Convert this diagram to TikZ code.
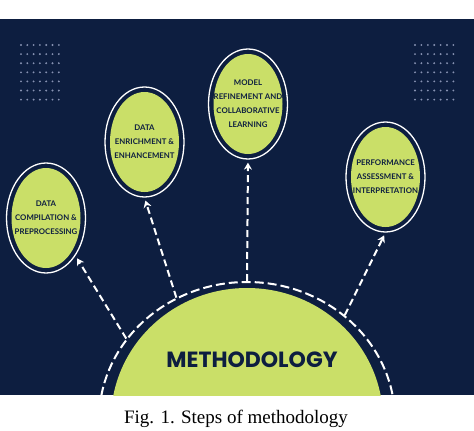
\documentclass[tikz,border=0pt]{standalone}
\usepackage{fontspec}
\setmainfont{Liberation Serif}
\newfontfamily\stepfont{Poppins}
\newfontfamily\labelfont{Lato}
\usetikzlibrary{shapes.geometric}
\usetikzlibrary{arrows.meta}
\definecolor{navy}{RGB}{13,30,64}
\definecolor{stepgreen}{RGB}{202,223,104}
\definecolor{dotgray}{RGB}{135,146,178}

\begin{document}
\begin{tikzpicture}[x=1pt, y=-1pt]
\tikzset{ring/.style = {ellipse, draw=white, line width=1.3pt, minimum width=79pt, minimum height=110pt, inner sep=0pt}}
\tikzset{stepnode/.style = {ellipse, fill=stepgreen, minimum width=69pt, minimum height=100pt, inner xsep=-14pt, inner ysep=0pt, align=center, text=navy, font=\labelfont\bfseries\fontsize{7.8}{14}\selectfont}}
\tikzset{dome/.style = {ellipse, draw=white, line width=2pt, dash pattern=on 9pt off 4pt, minimum width=296pt, minimum height=276pt, inner sep=0pt}}
\tikzset{flow/.style = {-{Stealth[length=7pt, width=8pt]}, white, line width=2pt, dash pattern=on 7pt off 4pt, shorten >=3pt}}

\useasboundingbox (0,0) rectangle (474,431);
\fill[navy] (0,19) rectangle (474,395);

% dot grids
\foreach \i in {0,...,6}
  \foreach \j in {0,...,6}
  {\fill[dotgray] (21+6.3*\i, 45+9.1*\j) circle (1.05);
   \fill[dotgray] (415+6.4*\i, 45+9.1*\j) circle (1.05);}

\begin{scope}
\clip (0,19) rectangle (474,395);
\node[dome] (dome) at (247,420) {};
\fill[stepgreen] (dome.center) ellipse [x radius=136, y radius=132];
\end{scope}

\node[text=navy, font=\stepfont\bfseries\fontsize{22}{22}\selectfont] (title) at (252,360) {METHODOLOGY};

\node[ring] (compile) at (46,218) {};
\node[stepnode] at (compile) {DATA\\COMPILATION \&\\PREPROCESSING};

\node[ring] (enrich) at (144.5,142) {};
\node[stepnode] at (enrich) {DATA\\ENRICHMENT \&\\ENHANCEMENT};

\node[ring] (refine) at (248,104) {};
\node[stepnode] at (refine) {MODEL\\REFINEMENT AND\\COLLABORATIVE\\LEARNING};

\node[ring] (assess) at (385.5,177) {};
\node[stepnode] at (assess) {PERFORMANCE\\ASSESSMENT \&\\INTERPRETATION};

\draw[flow] (dome.146) -- (compile.-52);
\draw[flow] (dome.120) -- (enrich.south);
\draw[flow] (dome.north) -- (refine.south);
\draw[flow] (dome.47) -- (assess.south);

\node[font=\fontsize{19}{19}\selectfont] (caption) at (236,419) {Fig. 1. Steps of methodology};
\end{tikzpicture}
\end{document}
